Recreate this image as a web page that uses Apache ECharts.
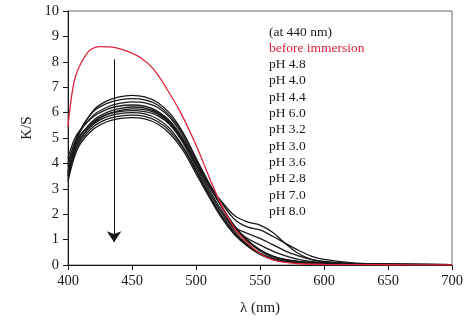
<!DOCTYPE html>
<html>
<head>
<meta charset="utf-8">
<script src="https://cdn.jsdelivr.net/npm/echarts@6/dist/echarts.min.js"></script>
<style>
  html, body { margin: 0; padding: 0; background: #fff; }
  #chart { width: 474px; height: 321px; }
</style>
</head>
<body>
<div id="chart"></div>
<script>
// Wavelength grid (nm) for the sample spectra
const wavelengths = [400, 405, 410, 420, 430, 440, 450, 460, 470, 480, 490, 500, 510, 520, 530, 540, 550, 560, 570, 580, 590, 600, 625, 650, 700];

// K/S spectra after immersion, listed by K/S at 440 nm (highest first)
const pH48 = [3.5, 4.6, 5.3, 6.1, 6.45, 6.62, 6.68, 6.62, 6.4, 5.95, 5.2, 4.2, 3.2, 2.3, 1.5, 0.95, 0.55, 0.32, 0.2, 0.13, 0.09, 0.07, 0.04, 0.03, 0.01];
const pH40 = [3.6, 4.7, 5.35, 6.05, 6.35, 6.5, 6.55, 6.5, 6.3, 5.85, 5.15, 4.2, 3.25, 2.45, 1.8, 1.5, 1.38, 1.13, 0.85, 0.58, 0.35, 0.22, 0.07, 0.03, 0.01];
const pH44 = [3.9, 4.8, 5.3, 5.9, 6.2, 6.36, 6.42, 6.38, 6.2, 5.78, 5.05, 4.1, 3.15, 2.3, 1.55, 1.0, 0.6, 0.35, 0.22, 0.14, 0.1, 0.07, 0.04, 0.03, 0.01];
const pH60 = [4.2, 4.95, 5.35, 5.85, 6.12, 6.26, 6.3, 6.25, 6.05, 5.65, 4.95, 4.1, 3.15, 2.5, 1.95, 1.7, 1.57, 1.28, 0.84, 0.45, 0.22, 0.12, 0.05, 0.03, 0.01];
const pH32 = [3.7, 4.6, 5.1, 5.7, 6.0, 6.16, 6.22, 6.18, 6.0, 5.6, 4.9, 4.0, 3.1, 2.3, 1.5, 1.25, 1.05, 0.8, 0.55, 0.36, 0.22, 0.14, 0.05, 0.03, 0.01];
const pH30 = [3.4, 4.4, 5.0, 5.6, 5.92, 6.08, 6.15, 6.12, 5.95, 5.55, 4.85, 3.95, 3.0, 2.15, 1.45, 1.05, 0.79, 0.55, 0.36, 0.22, 0.14, 0.09, 0.04, 0.02, 0.01];
const pH36 = [4.0, 4.75, 5.15, 5.65, 5.92, 6.04, 6.08, 6.04, 5.88, 5.5, 4.8, 3.85, 2.9, 2.05, 1.4, 0.95, 0.6, 0.35, 0.2, 0.13, 0.09, 0.06, 0.03, 0.02, 0.01];
const pH28 = [3.6, 4.5, 5.0, 5.55, 5.83, 5.96, 6.0, 5.95, 5.75, 5.35, 4.65, 3.75, 2.8, 1.95, 1.3, 0.82, 0.47, 0.26, 0.15, 0.1, 0.07, 0.05, 0.03, 0.02, 0.01];
const pH70 = [3.5, 4.4, 4.9, 5.45, 5.73, 5.86, 5.9, 5.85, 5.65, 5.25, 4.6, 3.7, 2.75, 1.9, 1.25, 0.78, 0.44, 0.24, 0.14, 0.09, 0.06, 0.04, 0.02, 0.01, 0.01];
const pH80 = [3.3, 4.25, 4.8, 5.35, 5.63, 5.76, 5.8, 5.75, 5.55, 5.15, 4.5, 3.6, 2.7, 1.85, 1.2, 0.75, 0.42, 0.22, 0.13, 0.08, 0.05, 0.04, 0.02, 0.01, 0.0];

// Reference spectrum of the dyed sample before immersion
const beforeWavelengths = [400, 402, 404.5, 407, 411, 417, 425, 436, 446, 457, 467, 477, 488, 498, 506, 512, 520, 530, 540, 550, 560, 570, 580, 600, 650, 700];
const beforeImmersion = [5.45, 6.35, 7.15, 7.6, 8.02, 8.45, 8.6, 8.57, 8.42, 8.15, 7.7, 6.95, 6.0, 4.95, 4.0, 3.25, 2.35, 1.45, 0.88, 0.45, 0.2, 0.1, 0.05, 0.02, 0.01, 0.0];

const sampleNames = ['pH 4.8', 'pH 4.0', 'pH 4.4', 'pH 6.0', 'pH 3.2', 'pH 3.0', 'pH 3.6', 'pH 2.8', 'pH 7.0', 'pH 8.0'];
const sampleSpectra = [pH48, pH40, pH44, pH60, pH32, pH30, pH36, pH28, pH70, pH80];

// Downward arrow at ~436 nm: [wavelength, K/S start], [wavelength, K/S end]
const arrowStart = [436, 8.1];
const arrowEnd = [436, 0.9];

// Axis ticks
const xTicks = { min: 400, max: 700, step: 50 };
const yTicks = { min: 0, max: 10, step: 1 };

const legendTitle = '(at 440 nm)';
const beforeName = 'before immersion';

const FONT = 'Liberation Serif';
const RED = '#e3233a';
const INK = '#1a1a1a';

const pairs = (xs, ys) => xs.map((x, i) => [x, ys[i]]);

const series = sampleSpectra.map((ys, i) => ({
  name: sampleNames[i],
  type: 'line',
  data: pairs(wavelengths, ys),
  smooth: 0.35,
  showSymbol: false,
  lineStyle: { color: INK, width: 1.3 },
  z: 2
}));

series.push({
  name: beforeName,
  type: 'line',
  data: pairs(beforeWavelengths, beforeImmersion),
  smooth: 0.3,
  showSymbol: false,
  lineStyle: { color: RED, width: 1.3 },
  z: 3
});

series.push({
  type: 'lines',
  coordinateSystem: 'cartesian2d',
  data: [{ coords: [arrowStart, arrowEnd] }],
  symbol: ['none', 'arrow'],
  symbolSize: [7, 11],
  lineStyle: { color: INK, width: 1, opacity: 1, curveness: 0 },
  z: 4
});

// Text list at the right of the plot
const legendLines = [
  { text: legendTitle, color: INK },
  { text: beforeName, color: RED }
].concat(sampleNames.map(n => ({ text: n, color: INK })));

const graphic = legendLines.map((l, i) => ({
  type: 'text',
  left: 269,
  top: 25 + i * 16.3,
  style: { text: l.text, fill: l.color, font: '13.5px "' + FONT + '"' }
}));

graphic.push({
  type: 'text',
  x: 27,
  y: 128,
  rotation: Math.PI / 2,
  style: {
    text: 'K/S',
    fill: INK,
    font: '15px "' + FONT + '"',
    align: 'center',
    verticalAlign: 'middle'
  }
});

const chart = echarts.init(document.getElementById('chart'), null, { renderer: 'canvas' });
chart.setOption({
  animation: false,
  backgroundColor: '#fff',
  grid: {
    left: 68, right: 22, top: 11, bottom: 54,
    show: true, borderColor: '#666', borderWidth: 1, backgroundColor: 'transparent'
  },
  xAxis: {
    type: 'value',
    min: xTicks.min, max: xTicks.max, interval: xTicks.step,
    name: 'λ (nm)',
    nameLocation: 'middle',
    nameGap: 36,
    nameTextStyle: { fontFamily: FONT, fontSize: 15, color: INK },
    axisLine: { lineStyle: { color: INK, width: 1 } },
    axisTick: { show: true, length: 5, lineStyle: { color: INK } },
    axisLabel: { margin: 9, fontFamily: FONT, fontSize: 14.5, color: INK },
    splitLine: { show: false }
  },
  yAxis: {
    type: 'value',
    min: yTicks.min, max: yTicks.max, interval: yTicks.step,
    axisLine: { show: true, lineStyle: { color: INK, width: 1 } },
    axisTick: { show: true, length: 5, lineStyle: { color: INK } },
    axisLabel: { margin: 9, fontFamily: FONT, fontSize: 14.5, color: INK },
    splitLine: { show: false }
  },
  graphic: graphic,
  series: series
});
</script>
</body>
</html>
